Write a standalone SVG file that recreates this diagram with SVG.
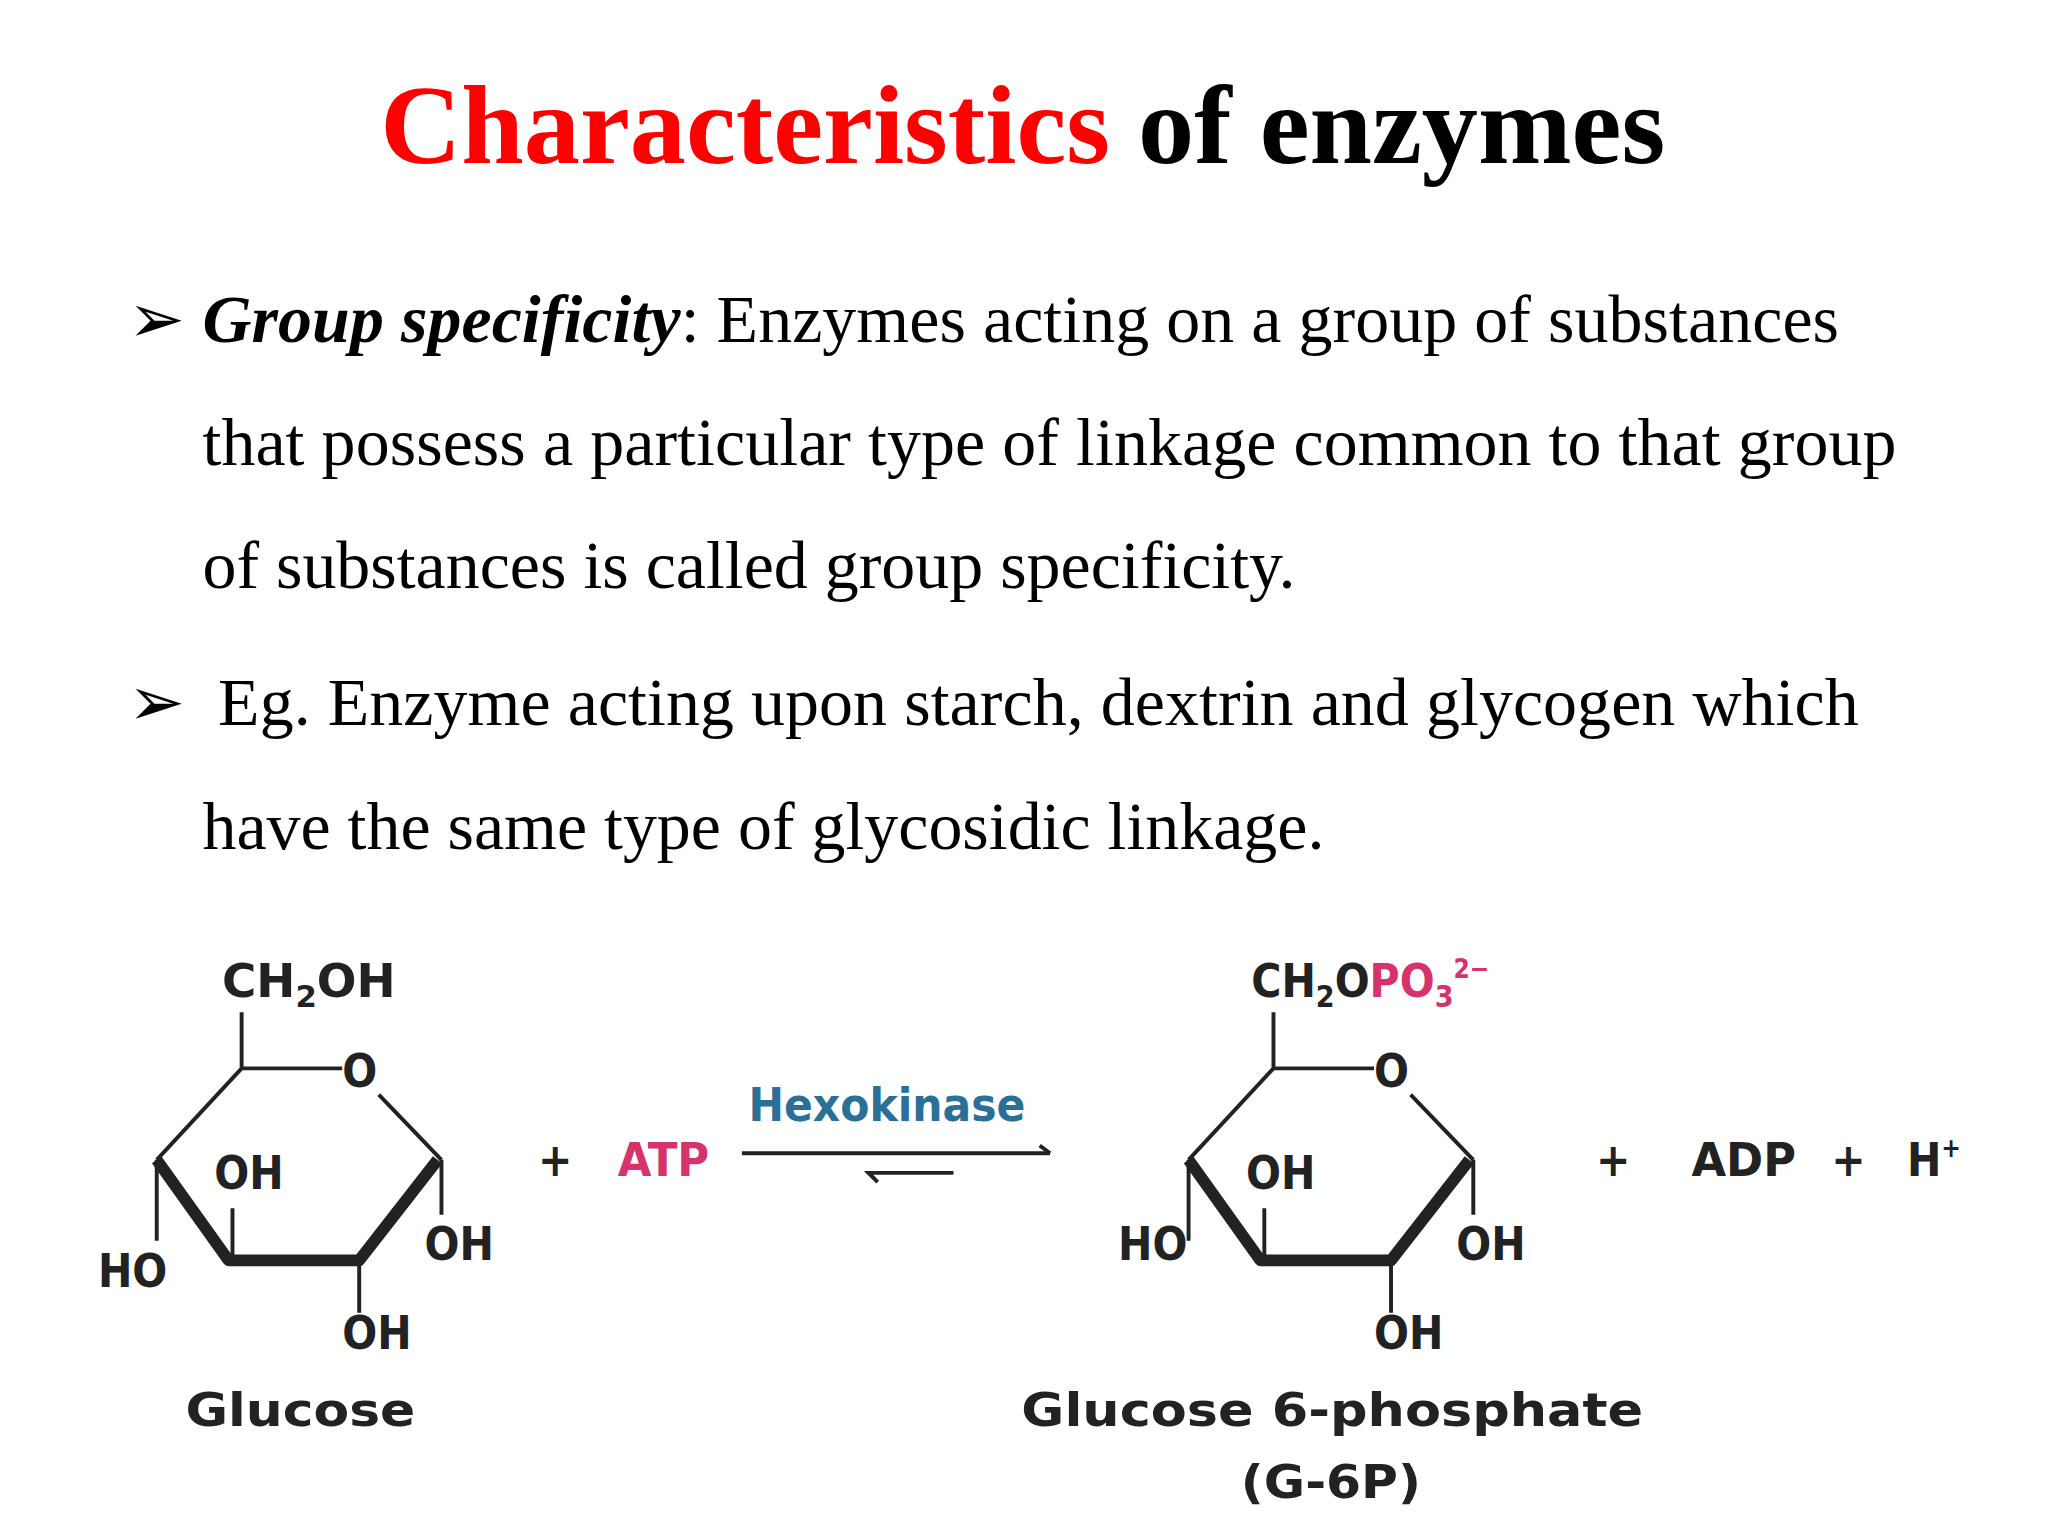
<svg xmlns="http://www.w3.org/2000/svg" width="2048" height="1536" viewBox="0 0 2048 1536">
<style>
.t{font-family:"Liberation Serif","Times New Roman",serif;font-size:52px;fill:#000}
.c{font-family:"DejaVu Sans Condensed","Liberation Sans",sans-serif;font-weight:bold;font-size:35px;fill:#222}
.b{stroke:#222;stroke-width:3;fill:none}
.w{stroke:#222;stroke-width:9;fill:none;stroke-linejoin:round}
</style>
<rect width="2048" height="1536" fill="#fff"/>
<g transform="scale(1.30612)">
<g id="title"><text x="783" y="125" text-anchor="middle" style="font-family:'Liberation Serif',serif;font-weight:bold;font-size:86px"><tspan fill="#f00">Characteristics</tspan><tspan fill="#000"> of enzymes</tspan></text></g>
<g id="bullets">
<text class="t" x="98" y="262">➢</text>
<text class="t" x="155" y="262" textLength="1253" lengthAdjust="spacing"><tspan font-weight="bold" font-style="italic">Group specificity</tspan>: Enzymes acting on a group of substances</text>
<text class="t" x="155" y="356" textLength="1297" lengthAdjust="spacing">that possess a particular type of linkage common to that group</text>
<text class="t" x="155" y="450">of substances is called group specificity.</text>
<text class="t" x="98" y="555">➢</text>
<text class="t" x="167" y="555" textLength="1256" lengthAdjust="spacing">Eg. Enzyme acting upon starch, dextrin and glycogen which</text>
<text class="t" x="155" y="650">have the same type of glycosidic linkage.</text>
</g>
<g id="glucose">
<path class="b" d="M185 775V818H262M290 838L338 888M120 888L185 818"/>
<path class="w" d="M120 888L175 965H275L335 888"/>
<path class="b" d="M178 965V925M120 888V950M338 888V930M275 965V1005"/>
<text class="c" x="170" y="763" textLength="133" lengthAdjust="spacingAndGlyphs">CH<tspan font-size="23" dy="8">2</tspan><tspan dy="-8">OH</tspan></text>
<text class="c" x="262" y="832">O</text>
<text class="c" x="164" y="910">OH</text>
<text class="c" x="75" y="985">HO</text>
<text class="c" x="325" y="965">OH</text>
<text class="c" x="262" y="1033">OH</text>
<text class="c" x="142" y="1092" font-size="42" textLength="176" lengthAdjust="spacingAndGlyphs">Glucose</text>
</g>
<g id="reaction">
<text class="c" x="412" y="900">+</text>
<text class="c" x="473" y="900" style="fill:#d6336c" textLength="70" lengthAdjust="spacingAndGlyphs">ATP</text>
<text class="c" x="573" y="858" style="fill:#2a6f97" textLength="212" lengthAdjust="spacingAndGlyphs">Hexokinase</text>
<path class="b" d="M568 883H804M796 877L804 883" stroke-width="2.5"/>
<path class="b" d="M730 898H665L672 905" stroke-width="2.5"/>
</g>
<g id="g6p">
<path class="b" d="M975 775V818H1052M1080 838L1128 888M910 888L975 818"/>
<path class="w" d="M910 888L965 965H1065L1125 888"/>
<path class="b" d="M968 965V925M910 888V950M1128 888V930M1065 965V1005"/>
<text class="c" x="958" y="763">CH<tspan font-size="23" dy="8">2</tspan><tspan dy="-8">O</tspan><tspan style="fill:#d6336c">PO<tspan font-size="23" dy="8">3</tspan><tspan font-size="20" dy="-22">2−</tspan></tspan></text>
<text class="c" x="1052" y="832">O</text>
<text class="c" x="954" y="910">OH</text>
<text class="c" x="856" y="965">HO</text>
<text class="c" x="1115" y="965">OH</text>
<text class="c" x="1052" y="1033">OH</text>
<text class="c" x="782" y="1092" font-size="42" textLength="476" lengthAdjust="spacingAndGlyphs">Glucose 6-phosphate</text>
<text class="c" x="950" y="1147" font-size="42" textLength="138" lengthAdjust="spacingAndGlyphs">(G-6P)</text>
</g>
<g id="products">
<text class="c" x="1222" y="900">+</text>
<text class="c" x="1295" y="900" textLength="80" lengthAdjust="spacingAndGlyphs">ADP</text>
<text class="c" x="1402" y="900">+</text>
<text class="c" x="1460" y="900">H<tspan font-size="20" dy="-14">+</tspan></text>
</g>
</g>
</svg>
